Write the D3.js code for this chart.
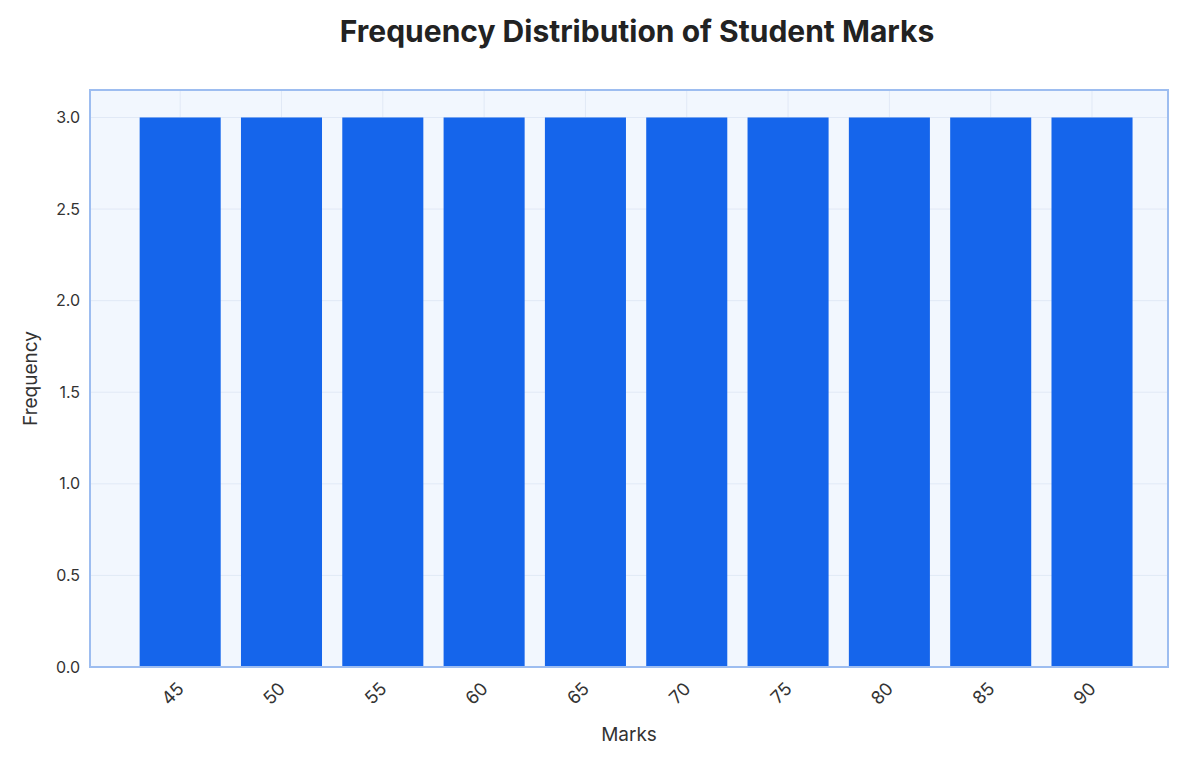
<!DOCTYPE html>
<html><head><meta charset="utf-8">
<script src="https://cdn.jsdelivr.net/npm/d3@7"></script>
<style>body{margin:0;background:#fff;font-family:Inter,"Noto Sans",sans-serif;}</style>
</head><body>
<script>
// data
var marks = [45, 50, 55, 60, 65, 70, 75, 80, 85, 90];
var freq = [3, 3, 3, 3, 3, 3, 3, 3, 3, 3];
var yTicks = [0, 0.5, 1.0, 1.5, 2.0, 2.5, 3.0];

var margin = {top: 90, right: 32, bottom: 97, left: 90},
    width = 1200 - margin.left - margin.right,
    height = 764 - margin.top - margin.bottom;

var svg = d3.select("body").append("svg")
    .attr("width", 1200).attr("height", 764);

svg.append("text").attr("x", 637).attr("y", 42)
    .attr("text-anchor", "middle").style("font-size", "30px").style("font-weight", "bold")
    .attr("fill", "#222").text("Frequency Distribution of Student Marks");

var g = svg.append("g").attr("transform", "translate(" + margin.left + "," + margin.top + ")");

var x = d3.scaleLinear().domain([-0.89, 9.75]).range([0, width]);
var y = d3.scaleLinear().domain([0, 3.15]).range([height, 0]);
var bw = x(0.8) - x(0);

g.append("rect").attr("width", width).attr("height", height).attr("fill", "#f2f7fe");

// grid
g.selectAll(".hg").data(yTicks).enter().append("line")
    .attr("x1", 0).attr("x2", width).attr("y1", y).attr("y2", y)
    .attr("stroke", "#e1e9f6").attr("stroke-width", 1);
g.selectAll(".vg").data(marks).enter().append("line")
    .attr("x1", function(d, i){return x(i);}).attr("x2", function(d, i){return x(i);})
    .attr("y1", 0).attr("y2", height)
    .attr("stroke", "#e1e9f6").attr("stroke-width", 1);

// bars
g.selectAll(".bar").data(freq).enter().append("rect")
    .attr("x", function(d, i){return x(i) - bw / 2;})
    .attr("y", function(d){return y(d);})
    .attr("width", bw).attr("height", function(d){return height - y(d);})
    .attr("fill", "#1565eb");

g.append("rect").attr("width", width).attr("height", height)
    .attr("fill", "none").attr("stroke", "#9dbdf0").attr("stroke-width", 2);

// axes
g.selectAll(".yl").data(yTicks).enter().append("text")
    .attr("x", -10).attr("y", function(d){return y(d);}).attr("dy", "0.35em")
    .attr("text-anchor", "end").style("font-size", "16px").attr("fill", "#333")
    .text(function(d){return d3.format(".1f")(d);});

g.selectAll(".xl").data(marks).enter().append("text")
    .attr("transform", function(d, i){return "translate(" + (x(i) - 4) + "," + (height + 14) + ") rotate(-45)";})
    .attr("text-anchor", "end").attr("dy", "0.7em")
    .style("font-size", "18px").attr("fill", "#333")
    .text(function(d){return d;});

svg.append("text").attr("x", margin.left + width / 2).attr("y", 741)
    .attr("text-anchor", "middle").style("font-size", "19px").attr("fill", "#333").text("Marks");
svg.append("text").attr("transform", "translate(37," + (margin.top + height / 2) + ") rotate(-90)")
    .attr("text-anchor", "middle").style("font-size", "19px").attr("fill", "#333").text("Frequency");
</script>
</body></html>
